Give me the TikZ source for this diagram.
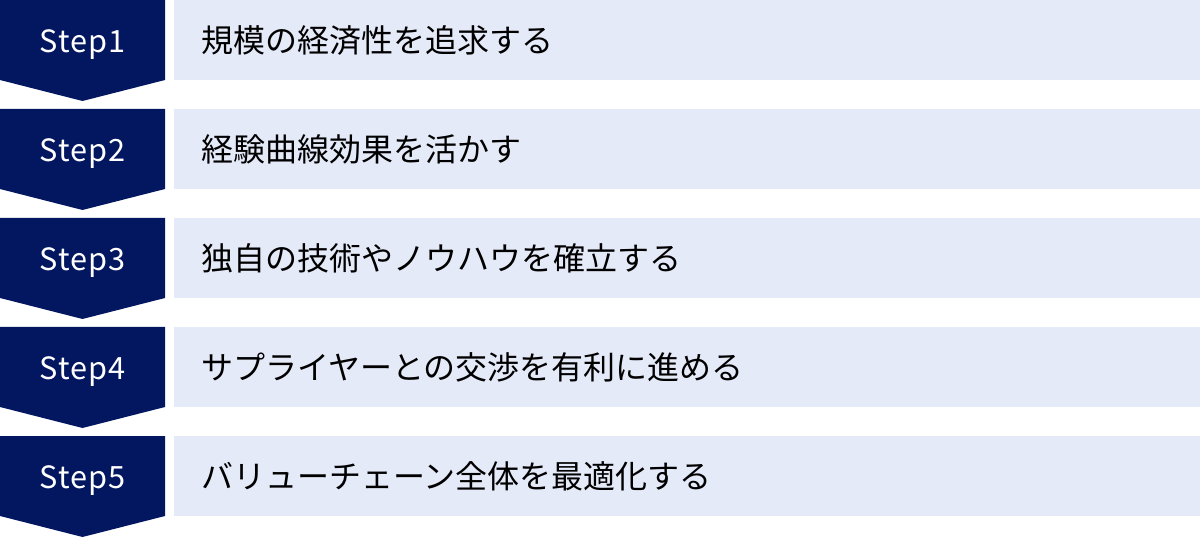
\documentclass[tikz,border=0pt]{standalone}
\usepackage{fontspec}
\setmainfont{Noto Sans CJK JP}
\definecolor{stepnavy}{RGB}{3,23,96}
\definecolor{stepback}{RGB}{229,234,248}
\tikzset{
	steptag/.style={text=white,font=\fontsize{23}{27}\selectfont\addfontfeatures{LetterSpace=3},inner sep=0.75pt},
	steptext/.style={anchor=west,text=black,font=\fontsize{24}{29}\selectfont,inner sep=0.75pt}
}
\begin{document}
\begin{tikzpicture}[x=0.75pt,y=0.75pt,yscale=-1,xscale=1]
	\useasboundingbox (0,0) rectangle (1200,538);
	
	\foreach \i/\lbl in {1/規模の経済性を追求する,2/経験曲線効果を活かす,3/独自の技術やノウハウを確立する,4/サプライヤーとの交渉を有利に進める,5/バリューチェーン全体を最適化する}{
		\pgfmathsetmacro{\rowtop}{(\i-1)*109}
		%Shape: Chevron
		\fill [stepnavy] (0,\rowtop) -- (165,\rowtop) -- (165,\rowtop+80) -- (82.5,\rowtop+101) -- (0,\rowtop+80) -- cycle ;
		%Shape: Rectangle
		\fill [stepback] (174,\rowtop) rectangle (1200,\rowtop+80) ;
		% Text Node
		\node [steptag] (step\i) at (82.5,\rowtop+45) {Step\i};
		% Text Node
		\node [steptext] (text\i) at (200,\rowtop+40) {\lbl};
	}
\end{tikzpicture}
\end{document}
